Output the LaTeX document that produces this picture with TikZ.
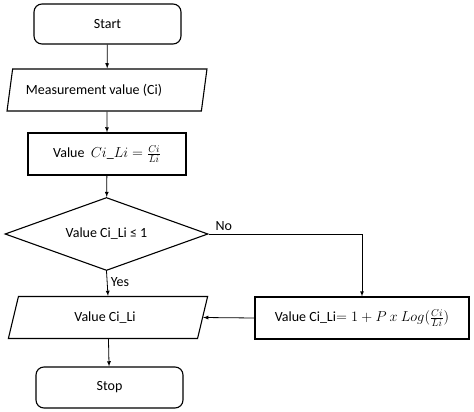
\documentclass[tikz,border=0pt]{standalone}
\usepackage{amsmath}
\usepackage{fontspec}
\setmainfont{Carlito}
\usetikzlibrary{shapes.geometric}
\usetikzlibrary{arrows}
\tikzset{t/.style={font=\fontsize{14}{16}\selectfont}}
\tikzset{term/.style={t,draw,rounded corners=8pt,line width=1.1pt,minimum width=147pt,minimum height=40pt}}
\tikzset{io/.style={t,draw,trapezium,trapezium left angle=75,trapezium right angle=105,trapezium stretches=true,line width=1.1pt,minimum width=200pt,minimum height=42pt,inner sep=0pt}}
\tikzset{proc/.style={t,draw,line width=1.1pt,minimum height=42pt}}
\tikzset{dec/.style={t,draw,diamond,aspect=2.8,line width=1.1pt,minimum width=203pt,minimum height=73pt,inner sep=0pt}}
\tikzset{arr/.style={-latex,line width=0.8pt}}

\begin{document}
\begin{tikzpicture}[x=1pt,y=-1pt]
  \useasboundingbox (0,0) rectangle (474,412);
  \node[term] (start) at (107.5,24) {Start};
  \node[io] (meas) at (107,90) {\kern-26pt Measurement value (Ci)};
  \node[proc,minimum width=158pt] (ratio) at (107,154) {Value \ $Ci\_Li = \frac{Ci}{Li}$};
  \node[dec] (test) at (106.5,234) {Value Ci\_Li ≤ 1};
  \node[proc,minimum width=214pt] (calc) at (362,318) {Value Ci\_Li$= 1 + P\ x\ Log(\frac{Ci}{Li})$};
  \node[io] (out) at (108,317.5) {\kern-6pt Value Ci\_Li};
  \node[term,minimum height=41pt] (stop) at (109.5,387.5) {Stop};
  % connectors
  \draw[arr] (start) -- (meas);
  \draw[arr] (meas) -- (ratio);
  \draw[arr] (ratio) -- (test);
  \draw[arr] (test.east) -| node[t,pos=0.05,above] {No} (calc.north);
  \draw[arr] (test.south) -- node[t,right,pos=0.45] {Yes} (out.north);
  \draw[arr] (calc.west) -- (out.east);
  \draw[arr] (out) -- (stop);
\end{tikzpicture}
\end{document}
